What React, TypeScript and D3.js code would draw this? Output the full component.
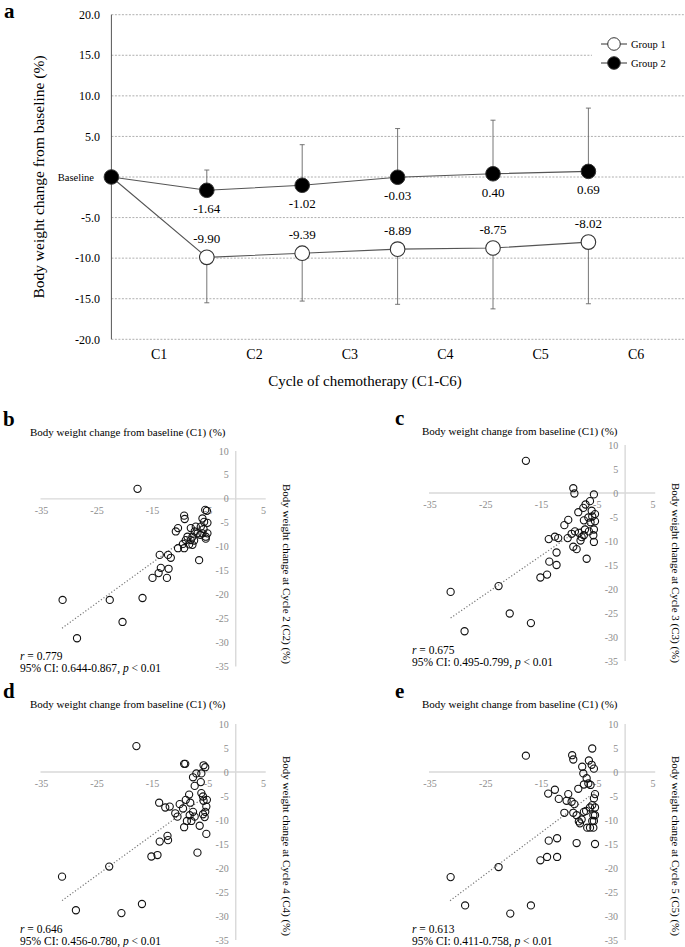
import React from 'react';
import * as d3 from 'd3';

const FONT = '"Liberation Serif", "Times New Roman", serif';

// panel a
const cycleLabels = ['C1', 'C2', 'C3', 'C4', 'C5', 'C6'];
const yTicksA = [20, 15, 10, 5, 0, -5, -10, -15, -20];
const group1Mean = [0, -9.9, -9.39, -8.89, -8.75, -8.02];
const group1Sd = [0, 5.6, 5.9, 6.8, 7.5, 7.6];
const group2Mean = [0, -1.64, -1.02, -0.03, 0.4, 0.69];
const group2Sd = [0, 2.5, 5.0, 6.0, 6.6, 7.8];
const legendLabels = ['Group 1', 'Group 2'];

// scatter panels (x = change at C1, y = change at later cycle)
const bX = [-17.7, -31.2, -22.7, -16.8, -20.4, -28.6, -15.0, -13.9, -13.5, -12.1, -12.4, -13.7, -12.2, -11.7, -6.6,
  -5.5, -5.2, -9.3, -9.2, -6.0, -5.7, -5.1, -10.4, -10.8, -8.1, -7.2, -6.3, -5.8, -7.4, -6.9, -6.0, -5.1, -5.4, -6.4,
  -8.7, -7.8, -9.0, -8.1, -7.5, -9.5, -8.4, -7.8, -10.4, -9.3, -5.4];
const bY = [2.1, -21.1, -21.1, -20.7, -25.7, -29.1, -16.5, -15.5, -14.4, -14.6, -16.5, -11.7, -11.7, -12.3, -12.8,
  -2.3, -2.5, -3.5, -4.2, -4.1, -4.8, -5.0, -6.1, -6.8, -6.1, -5.8, -5.8, -6.3, -6.8, -7.2, -7.2, -7.2, -7.9, -7.5,
  -7.9, -7.9, -8.6, -8.6, -8.7, -9.4, -9.5, -9.6, -10.3, -10.3, -8.3];

const cX = [-17.8, -9.3, -9.1, -5.6, -6.3, -7.1, -7.5, -8.4, -5.4, -6.0, -6.6, -10.2, -7.4, -6.2, -5.4, -10.9, -5.6,
  -6.5, -9.0, -8.3, -9.6, -5.7, -7.4, -7.8, -10.3, -12.0, -13.7, -12.6, -8.0, -5.6, -9.3, -8.7, -6.9, -12.3, -12.3,
  -13.6, -15.2, -14.0, -22.7, -31.3, -20.7, -16.9, -28.8, -5.9, -7.2];
const cY = [6.7, 1.0, -0.1, -0.3, -1.7, -2.4, -3.1, -4.0, -4.4, -3.7, -5.1, -5.6, -5.7, -6.1, -5.9, -6.7, -7.6,
  -8.0, -8.0, -8.3, -8.5, -8.8, -8.8, -9.2, -9.4, -9.4, -9.6, -9.1, -9.9, -10.2, -11.2, -11.7, -13.7, -12.4, -15.0,
  -14.3, -17.6, -17.0, -19.4, -20.6, -25.1, -27.1, -28.8, -4.9, -7.6];

const dX = [-17.9, -31.3, -22.8, -28.8, -20.6, -16.9, -15.2, -14.1, -13.7, -12.2, -12.3, -13.8, -12.7, -11.9, -10.9,
  -10.5, -10.1, -9.5, -9.3, -9.3, -9.1, -9.0, -8.4, -8.2, -8.8, -8.3, -8.0, -7.7, -7.4, -7.7, -7.4, -7.1, -6.5, -6.9,
  -6.3, -6.2, -5.9, -5.8, -5.5, -6.2, -5.8, -5.3, -5.5, -5.9, -5.6, -5.3, -5.2];
const dY = [5.4, -21.8, -19.7, -28.8, -29.4, -27.5, -17.6, -17.3, -14.5, -14.2, -13.3, -6.4, -7.4, -7.2, -8.6,
  -9.3, -6.7, -7.6, -11.5, 1.7, 1.7, -5.8, -4.7, -6.4, -10.2, -9.0, -10.2, -8.3, -9.3, -1.1, -2.9, -0.3, -11.2, -16.8,
  -2.1, -4.4, -5.1, 1.4, 1.0, -0.3, -6.0, -7.2, -8.3, -8.8, -9.4, -12.9, -5.8];

const eX = [-17.8, -9.5, -9.3, -5.9, -6.5, -6.0, -5.6, -7.7, -7.5, -6.9, -6.6, -7.4, -6.2, -8.4, -31.3, -22.7, -28.7,
  -20.6, -16.9, -15.2, -14.0, -12.2, -13.7, -12.2, -8.7, -5.4, -13.8, -12.6, -11.9, -10.9, -10.5, -10.2, -9.6, -9.1,
  -9.3, -8.7, -8.3, -8.1, -7.8, -7.4, -7.0, -6.3, -6.8, -6.3, -5.7, -5.4, -5.6, -5.9, -5.4, -5.7, -5.4, -5.9, -5.6];
const eY = [3.4, 3.5, 2.6, 4.9, 2.4, 1.5, 0.7, 1.1, -0.3, -1.3, -2.4, -2.6, -2.7, -3.5, -21.9, -19.8, -27.8,
  -29.5, -27.8, -18.4, -17.7, -17.7, -14.3, -13.8, -14.8, -15.0, -4.5, -3.7, -5.6, -8.5, -6.0, -4.6, -6.2, -6.7,
  -8.5, -9.0, -10.3, -10.7, -9.9, -8.3, -8.1, -7.4, -11.6, -11.6, -11.6, -4.6, -5.5, -6.9, -7.4, -9.0, -9.0, -10.2, -10.2];

const scatterXTicks = [-35, -25, -15, -5, 5];
const scatterYTicks = [10, 5, 0, -5, -10, -15, -20, -25, -30, -35];
const panelLetters = ['b', 'c', 'd', 'e'];
const cycleNames = ['Cycle 2 (C2)', 'Cycle 3 (C3)', 'Cycle 4 (C4)', 'Cycle 5 (C5)'];
const rValues = ['0.779', '0.675', '0.646', '0.613'];
const ciValues = ['0.644-0.867', '0.495-0.799', '0.456-0.780', '0.411-0.758'];
const trendSlope = [0.84, 0.8, 0.84, 0.87];
const trendIntercept = [-0.7, -1.0, -0.5, 0.5];
const trendFrom = [-31.3, -31.3, -31.3, -31.4];
const trendTo = [-5.2, -5.2, -5.2, -5.4];

function PanelA() {
  const left = 111.4, right = 683.8;
  const x = d3.scaleLinear().domain([0, 6]).range([left, right]);
  const y = d3.scaleLinear().domain([-20, 20]).range([339.3, 14.7]);
  const line = d3.line<number>().x((d, i) => x(i)).y(d => y(d));
  const cap = 2.5;
  return (
    <g fontFamily={FONT}>
      <text x={4} y={18} fontSize={21} fontWeight="bold">a</text>
      {yTicksA.map(t => (
        <g key={t}>
          <line x1={left} x2={right} y1={y(t)} y2={y(t)} stroke="#9a9a9a" strokeWidth={0.8} strokeDasharray="2,1.5" />
          <text x={t === 0 ? 94 : 100} y={y(t)} dy="0.35em" textAnchor="end" fontSize={t === 0 ? 10.5 : 12}>
            {t === 0 ? 'Baseline' : t.toFixed(1)}
          </text>
        </g>
      ))}
      <line x1={left} x2={left} y1={y(20)} y2={y(-20)} stroke="#555" strokeWidth={1} />
      {cycleLabels.map((c, i) => (
        <text key={c} x={x(i + 0.5)} y={359} textAnchor="middle" fontSize={14}>{c}</text>
      ))}
      <text x={365} y={386} textAnchor="middle" fontSize={15}>Cycle of chemotherapy (C1-C6)</text>
      <text transform="translate(44,177) rotate(-90)" textAnchor="middle" fontSize={15.5}>
        Body weight change from baseline (%)
      </text>
      {/* error bars */}
      {group1Mean.map((m, i) => i > 0 && (
        <g key={'e1' + i} stroke="#666" strokeWidth={0.9}>
          <line x1={x(i)} x2={x(i)} y1={y(m)} y2={y(m - group1Sd[i])} />
          <line x1={x(i) - cap} x2={x(i) + cap} y1={y(m - group1Sd[i])} y2={y(m - group1Sd[i])} />
        </g>
      ))}
      {group2Mean.map((m, i) => i > 0 && (
        <g key={'e2' + i} stroke="#666" strokeWidth={0.9}>
          <line x1={x(i)} x2={x(i)} y1={y(m)} y2={y(m + group2Sd[i])} />
          <line x1={x(i) - cap} x2={x(i) + cap} y1={y(m + group2Sd[i])} y2={y(m + group2Sd[i])} />
        </g>
      ))}
      <path d={line(group1Mean) || ''} fill="none" stroke="#555" strokeWidth={1.1} />
      <path d={line(group2Mean) || ''} fill="none" stroke="#555" strokeWidth={1.1} />
      {group1Mean.map((m, i) => i > 0 && (
        <g key={'p1' + i}>
          <circle cx={x(i)} cy={y(m)} r={7.3} fill="#fff" stroke="#333" strokeWidth={1.1} />
          <text x={x(i)} y={y(m) - 14} textAnchor="middle" fontSize={13}>{m.toFixed(2)}</text>
        </g>
      ))}
      {group2Mean.map((m, i) => (
        <g key={'p2' + i}>
          <circle cx={x(i)} cy={y(m)} r={7.3} fill="#000" stroke="#333" strokeWidth={1} />
          {i > 0 && <text x={x(i)} y={y(m) + 23} textAnchor="middle" fontSize={13}>{m.toFixed(2)}</text>}
        </g>
      ))}
      {/* legend */}
      <rect x={592} y={30} width={93} height={44} fill="#fff" />
      {legendLabels.map((l, i) => (
        <g key={l}>
          <line x1={601} x2={627} y1={44 + i * 19} y2={44 + i * 19} stroke="#333" strokeWidth={1} />
          <circle cx={614} cy={44 + i * 19} r={6.3} fill={i === 0 ? '#fff' : '#000'} stroke="#333" strokeWidth={1} />
          <text x={631} y={44 + i * 19} dy="0.35em" fontSize={10.5}>{l}</text>
        </g>
      ))}
    </g>
  );
}

type PanelProps = {
  idx: number; xs: number[]; ys: number[];
  x0: number; x1: number; yTop: number; yBot: number; ox: number; oy: number;
};

function Scatter({ idx, xs, ys, x0, x1, yTop, yBot, ox, oy }: PanelProps) {
  const x = d3.scaleLinear().domain([-35, 5]).range([x0, x1]);
  const y = d3.scaleLinear().domain([10, -35]).range([yTop, yBot]);
  const ax = x(0), ay = y(0);
  const tx = [trendFrom[idx], trendTo[idx]];
  return (
    <g fontFamily={FONT}>
      <text x={ox - 5} y={oy - 10} fontSize={21} fontWeight="bold">{panelLetters[idx]}</text>
      <text x={ox + 22} y={oy} fontSize={11}>Body weight change from baseline (C1) (%)</text>
      <line x1={x(-35) - 1} x2={x(5.4)} y1={ay} y2={ay} stroke="#d9d9d9" strokeWidth={1.4} />
      <line x1={ax} x2={ax} y1={y(10)} y2={y(-35)} stroke="#d9d9d9" strokeWidth={1.4} />
      {scatterXTicks.map(t => (
        <text key={t} x={x(t)} y={ay + 15} textAnchor="middle" fontSize={10} fill="#8c8c8c">{t}</text>
      ))}
      {scatterYTicks.map(t => (
        <text key={t} x={ax - 7} y={y(t)} dy="0.35em" textAnchor="end" fontSize={10} fill="#8c8c8c">{t}</text>
      ))}
      <line x1={x(tx[0])} x2={x(tx[1])}
        y1={y(trendSlope[idx] * tx[0] + trendIntercept[idx])} y2={y(trendSlope[idx] * tx[1] + trendIntercept[idx])}
        stroke="#777" strokeWidth={1.2} strokeDasharray="1.2,2" />
      {xs.map((v, i) => (
        <circle key={i} cx={x(v)} cy={y(ys[i])} r={3.6} fill="none" stroke="#111" strokeWidth={1.1} />
      ))}
      <text transform={`translate(${ax + 47},${oy + 48}) rotate(90)`} fontSize={11}>
        Body weight change at {cycleNames[idx]} (%)
      </text>
      <text x={ox + 12} y={yBot - 7} fontSize={11.5}>
        <tspan fontStyle="italic">r</tspan> = {rValues[idx]}
      </text>
      <text x={ox + 12} y={yBot + 5} fontSize={11.5}>
        95% CI: {ciValues[idx]}, <tspan fontStyle="italic">p</tspan> {'< 0.01'}
      </text>
    </g>
  );
}

export default function App() {
  return (
    <div style={{ position: 'absolute', left: 0, top: 0 }}>
      <svg width={685} height={947} style={{ display: 'block', background: '#fff' }}>
        <PanelA />
        <Scatter idx={0} xs={bX} ys={bY} x0={41.5} x1={263.5} yTop={451} yBot={666.5} ox={8} oy={436} />
        <Scatter idx={1} xs={cX} ys={cY} x0={430} x1={653} yTop={445} yBot={661} ox={400} oy={435} />
        <Scatter idx={2} xs={dX} ys={dY} x0={41.5} x1={263.5} yTop={724} yBot={940} ox={8} oy={708} />
        <Scatter idx={3} xs={eX} ys={eY} x0={430} x1={653} yTop={724} yBot={940} ox={400} oy={708} />
      </svg>
    </div>
  );
}
